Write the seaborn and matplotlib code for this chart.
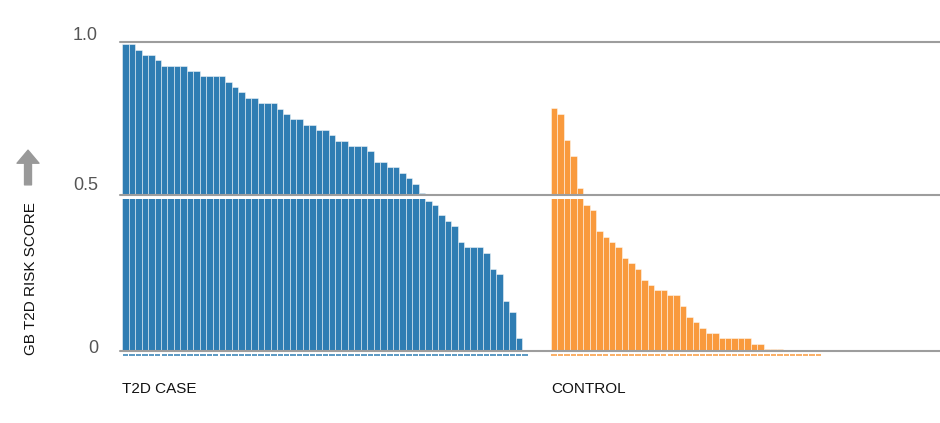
import numpy as np
import pandas as pd
import matplotlib
matplotlib.use("Agg")
import matplotlib.pyplot as plt
import matplotlib.transforms as mtransforms
from matplotlib.patches import FancyArrowPatch
import seaborn as sns

# risk scores, one bar per subject, sorted high to low
case_scores = [0.992, 0.992, 0.974, 0.958, 0.958, 0.940, 0.922, 0.922, 0.922, 0.922,
               0.904, 0.904, 0.888, 0.888, 0.888, 0.888, 0.870, 0.852, 0.836, 0.817,
               0.817, 0.800, 0.800, 0.800, 0.782, 0.765, 0.747, 0.747, 0.729, 0.729,
               0.712, 0.712, 0.695, 0.677, 0.677, 0.660, 0.660, 0.660, 0.643, 0.608,
               0.608, 0.591, 0.591, 0.573, 0.556, 0.537, 0.505, 0.495, 0.480, 0.447,
               0.428, 0.411, 0.359, 0.342, 0.342, 0.342, 0.324, 0.270, 0.253, 0.166,
               0.130, 0.044, 0.0]
control_scores = [0.783, 0.766, 0.679, 0.626, 0.522, 0.481, 0.465, 0.395, 0.376, 0.359,
                  0.343, 0.307, 0.289, 0.271, 0.235, 0.219, 0.202, 0.202, 0.184, 0.184,
                  0.149, 0.113, 0.097, 0.078, 0.061, 0.061, 0.043, 0.043, 0.043, 0.043,
                  0.043, 0.026, 0.026, 0.008, 0.008, 0.008, 0.0, 0.0, 0.0, 0.0, 0.0, 0.0]
group_names = ["T2D CASE", "CONTROL"]
tick_values = [1.0, 0.5, 0]
tick_labels = ["1.0", "0.5", "0"]
y_label = "GB T2D RISK SCORE"

colors = {"T2D CASE": "#2f7db3", "CONTROL": "#f99a3d"}
control_start = 66.5  # slot where the control group begins

case_pos = np.arange(len(case_scores))
control_pos = control_start + np.arange(len(control_scores))
df = pd.DataFrame({
    "pos": np.concatenate([case_pos, control_pos]),
    "score": case_scores + control_scores,
    "group": [group_names[0]] * len(case_scores) + [group_names[1]] * len(control_scores),
})

sns.set_style("white")
plt.rcParams["font.family"] = ["Liberation Sans", "DejaVu Sans"]

fig = plt.figure(figsize=(9.4, 4.23), dpi=100)
ax_hi = fig.add_axes([0.1277, 0.539, 0.8723, 0.3617])
ax_lo = fig.add_axes([0.1277, 0.1511, 0.8723, 0.3785])

for ax in (ax_hi, ax_lo):
    sns.barplot(data=df, x="pos", y="score", hue="group", palette=colors,
                native_scale=True, dodge=False, legend=False, errorbar=None,
                saturation=1, width=1.0, edgecolor=(1, 1, 1, 0.55),
                linewidth=0.6, ax=ax)
    ax.set_xlim(-0.853, 126.35)
    sns.despine(ax=ax, left=True, bottom=True)
    ax.set_xticks([])
    ax.set_yticks([])
    ax.set_xlabel("")
    ax.set_ylabel("")
    ax.patch.set_alpha(0)

ax_hi.set_ylim(0.5, 1.0)
ax_lo.set_ylim(-0.025, 0.5)

grid_kw = dict(color="#9d9d9d", lw=1.5, clip_on=False, zorder=5)
ax_hi.axhline(1.0, **grid_kw)
ax_hi.axhline(0.5, **grid_kw)
ax_lo.axhline(0, **grid_kw)

# small dash under every bar
for name, pos in zip(group_names, [case_pos, control_pos]):
    ax_lo.hlines(np.full(len(pos), -0.0125), pos - 0.42, pos + 0.42,
                 color=colors[name], lw=1.1, clip_on=False)

# y tick labels
offsets = [5, 7, 1.8]
for val, lab, dy in zip(tick_values, tick_labels, offsets):
    ax = ax_hi if val >= 0.5 else ax_lo
    tr = mtransforms.blended_transform_factory(ax.transAxes, ax.transData)
    tr = mtransforms.offset_copy(tr, fig=fig, x=0, y=dy, units="points")
    ax.text(-0.0268, val, lab, transform=tr, ha="right", va="center",
            fontsize=13, color="#555555")

# group labels under each block
lab_tr = mtransforms.blended_transform_factory(ax_lo.transData, fig.transFigure)
ax_lo.text(case_pos[0] - 0.5, 0.0804, group_names[0], transform=lab_tr,
           ha="left", va="center", fontsize=11, color="#111111")
ax_lo.text(control_pos[0] - 0.5, 0.0804, group_names[1], transform=lab_tr,
           ha="left", va="center", fontsize=11, color="#111111")

fig.text(0.033, 0.3416, y_label, rotation=90, ha="center", va="center",
         fontsize=11, color="#111111")

arrow = FancyArrowPatch((0.0298, 0.563), (0.0298, 0.645), transform=fig.transFigure,
                        arrowstyle="simple,head_width=1.58,head_length=0.94,tail_width=0.5",
                        mutation_scale=10, color="#999999", shrinkA=0, shrinkB=0)
fig.add_artist(arrow)

plt.savefig("out.png", dpi=100)
